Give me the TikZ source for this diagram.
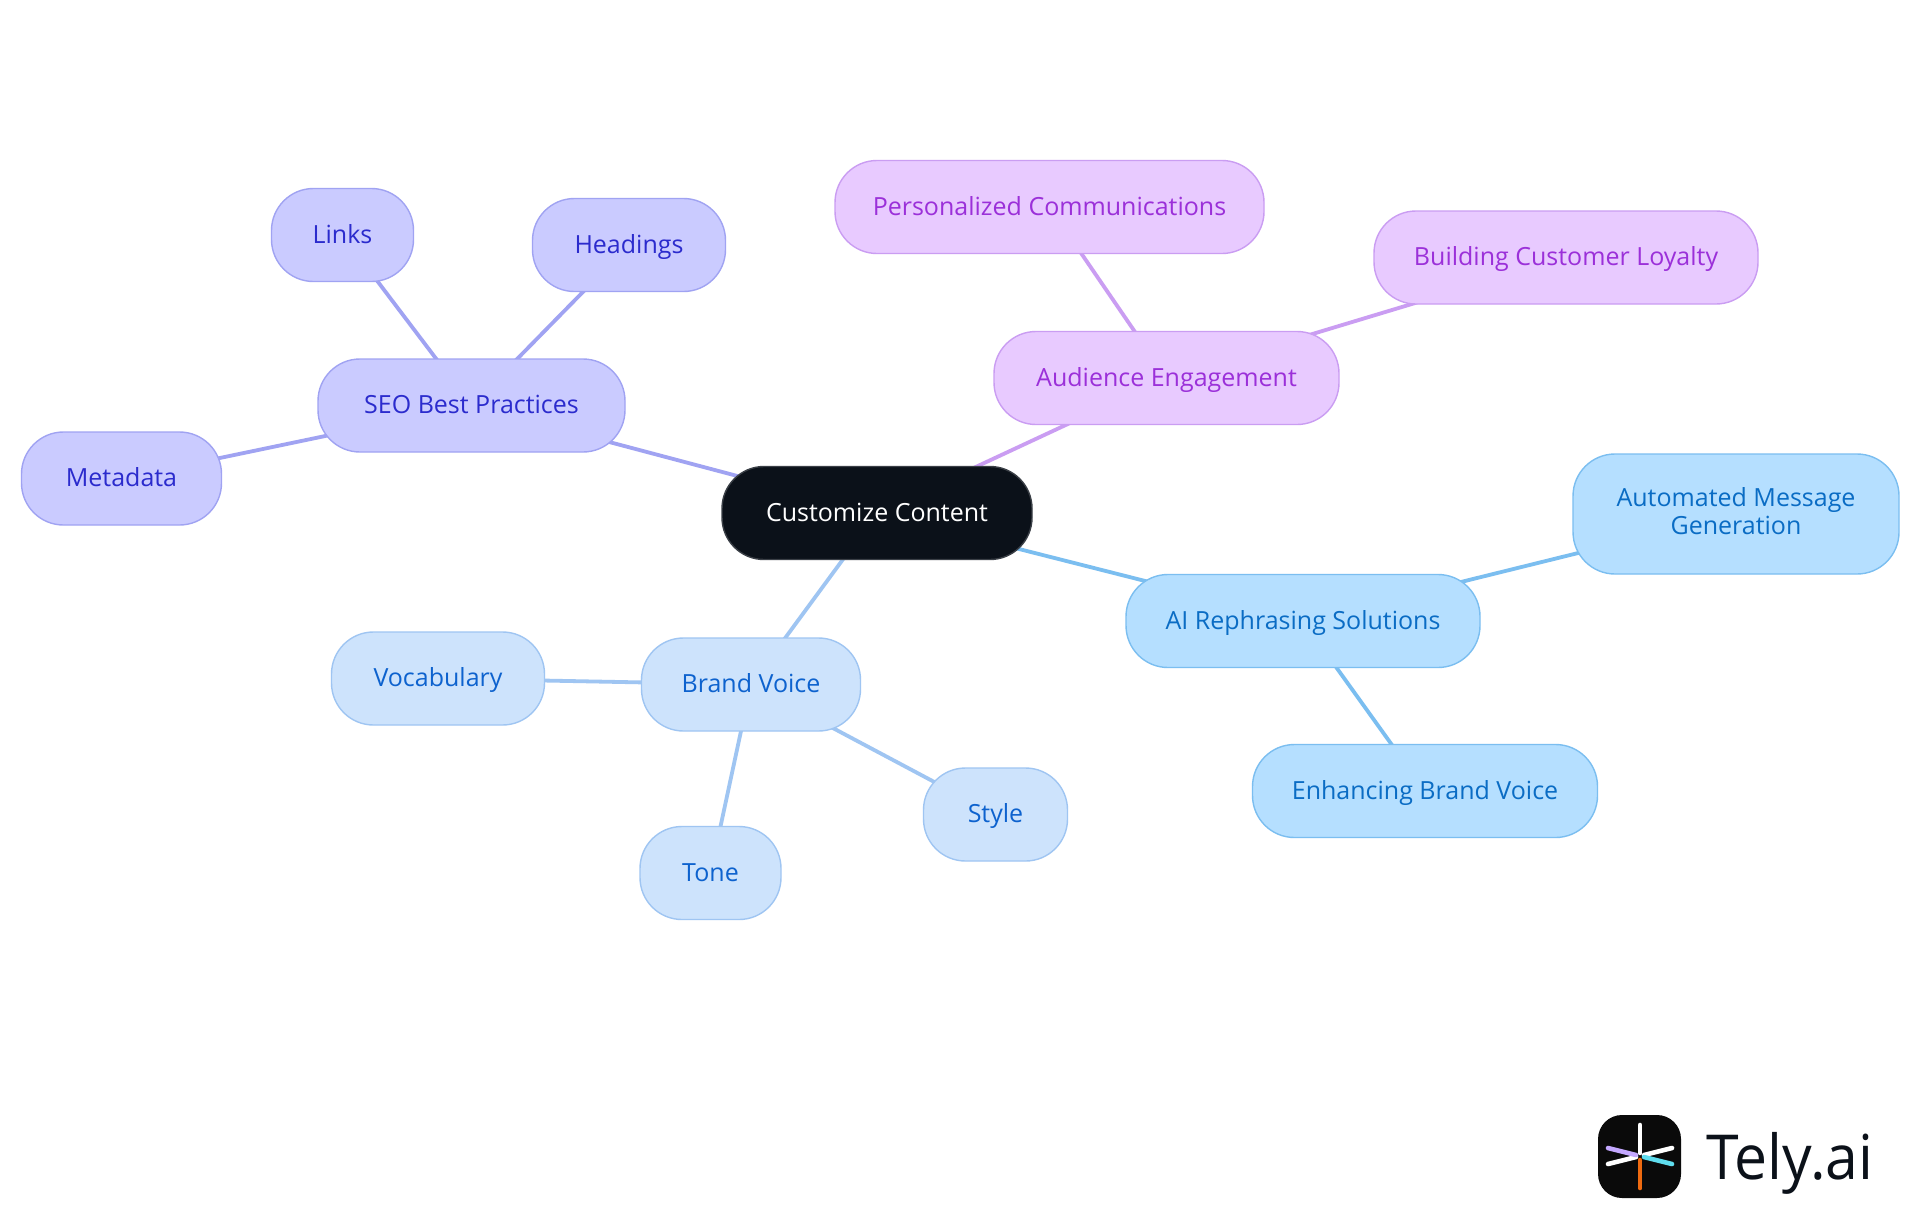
\documentclass[tikz,border=0pt]{standalone}
\usepackage{fontspec}
\setmainfont{Open Sans}
\newfontfamily\logofont[FakeStretch=0.95]{Open Sans}
\usetikzlibrary{backgrounds}
\definecolor{rootfill}{HTML}{0B1119}
\definecolor{rootline}{HTML}{3A3F46}
\definecolor{seofill}{HTML}{CACBFF}
\definecolor{seoline}{HTML}{A0A3F2}
\definecolor{seotext}{HTML}{2B2BCD}
\definecolor{audfill}{HTML}{E8CAFF}
\definecolor{audline}{HTML}{CA9DF2}
\definecolor{audtext}{HTML}{9B30D9}
\definecolor{aifill}{HTML}{B5DFFF}
\definecolor{ailine}{HTML}{7BBEF0}
\definecolor{aitext}{HTML}{0A6CC4}
\definecolor{brandfill}{HTML}{CDE3FC}
\definecolor{brandline}{HTML}{9FC5F2}
\definecolor{brandtext}{HTML}{0D62CE}
\definecolor{logoback}{HTML}{0A0A0A}
\definecolor{logoorange}{HTML}{EE6A10}
\definecolor{logoviolet}{HTML}{C4A8FF}
\definecolor{logocyan}{HTML}{5FDDEE}
\newcommand{\boxstrut}{\rule[-3pt]{0pt}{14pt}}
\tikzset{
  box/.style={rounded corners=21pt, line width=0.7pt, minimum height=46.5pt, align=center, inner sep=0pt,
    font=\fontsize{12.5}{14}\selectfont, execute at begin node=\boxstrut, execute at end node=\boxstrut},
  rootbox/.style={box, fill=rootfill, draw=rootline, text=white},
  seobox/.style={box, fill=seofill, draw=seoline, text=seotext},
  audbox/.style={box, fill=audfill, draw=audline, text=audtext},
  aibox/.style={box, fill=aifill, draw=ailine, text=aitext},
  brandbox/.style={box, fill=brandfill, draw=brandline, text=brandtext},
  link/.style={line width=1.9pt},
  spoke/.style={line width=2.3pt, line cap=round}
}
\begin{document}
\begin{tikzpicture}[x=0.5pt,y=-0.5pt]
  \useasboundingbox (0,0) rectangle (1920,1215);
  % centre
  \node[rootbox, minimum width=155pt] (root) at (877,513) {Customize Content};
  % seo branch
  \node[seobox, minimum width=153.5pt] (seo) at (471.5,405.5) {SEO Best Practices};
  \node[seobox, minimum width=71pt] (links) at (342.5,235) {Links};
  \node[seobox, minimum width=96.5pt] (headings) at (629,245) {Headings};
  \node[seobox, minimum width=100pt] (metadata) at (121.5,478.5) {Metadata};
  % audience branch
  \node[audbox, minimum width=172.5pt] (audience) at (1166.5,378) {Audience Engagement};
  \node[audbox, minimum width=214.5pt] (personal) at (1049.5,207) {Personalized Communications};
  \node[audbox, minimum width=192pt] (loyalty) at (1566,257.5) {Building Customer Loyalty};
  % ai branch
  \node[aibox, minimum width=177pt] (rephrase) at (1303,621) {AI Rephrasing Solutions};
  \node[aibox, minimum width=163pt, minimum height=60pt] (automated) at (1736,514) {Automated Message\\Generation};
  \node[aibox, minimum width=172.5pt] (enhancing) at (1425,791) {Enhancing Brand Voice};
  % brand branch
  \node[brandbox, minimum width=109.5pt] (brand) at (751,684.5) {Brand Voice};
  \node[brandbox, minimum width=106.5pt] (vocabulary) at (438,678.5) {Vocabulary};
  \node[brandbox, minimum width=72pt] (stylebox) at (995.5,814.5) {Style};
  \node[brandbox, minimum width=70.5pt] (tone) at (710.5,873) {Tone};
  % connectors
  \begin{pgfonlayer}{background}
    \fill[white] (0,0) rectangle (1920,1215);
    \draw[link, seoline] (root.center) -- (seo.center);
    \draw[link, seoline] (seo.center) -- (links.center);
    \draw[link, seoline] (seo.center) -- (headings.center);
    \draw[link, seoline] (seo.center) -- (metadata.center);
    \draw[link, audline] (root.center) -- (audience.center);
    \draw[link, audline] (audience.center) -- (personal.center);
    \draw[link, audline] (audience.center) -- (loyalty.center);
    \draw[link, ailine] (root.center) -- (rephrase.center);
    \draw[link, ailine] (rephrase.center) -- (automated.center);
    \draw[link, ailine] (rephrase.center) -- (enhancing.center);
    \draw[link, brandline] (root.center) -- (brand.center);
    \draw[link, brandline] (brand.center) -- (vocabulary.center);
    \draw[link, brandline] (brand.center) -- (stylebox.center);
    \draw[link, brandline] (brand.center) -- (tone.center);
  \end{pgfonlayer}
  % logo
  \fill[logoback, rounded corners=12pt] (1598,1115) rectangle (1681,1198);
  \draw[spoke, white] (1640,1153) -- (1640,1125);
  \draw[spoke, white] (1636,1157) -- (1608,1164);
  \draw[spoke, white] (1644,1155) -- (1672,1148);
  \draw[spoke, logoorange] (1640,1160) -- (1640,1188);
  \draw[spoke, logoviolet] (1636,1155) -- (1608,1148);
  \draw[spoke, logocyan] (1644,1157) -- (1672,1164);
  \node[text=rootfill, font=\logofont\fontsize{31}{36}\selectfont, inner sep=0pt, anchor=base west] (tely) at (1706,1179) {Tely.ai};
\end{tikzpicture}
\end{document}
